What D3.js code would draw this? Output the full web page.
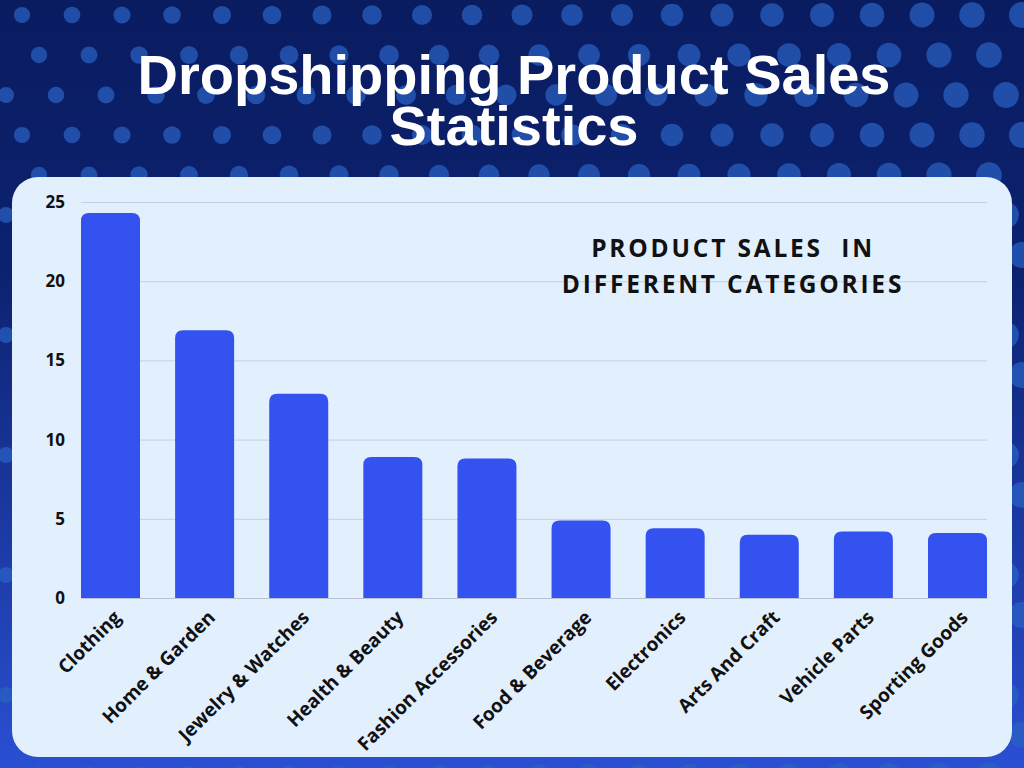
<!DOCTYPE html>
<html>
<head>
<meta charset="utf-8">
<script src="https://cdn.jsdelivr.net/npm/d3@7"></script>
<style>
  html, body { margin: 0; padding: 0; background: #0b1f66; }
  svg { display: block; }
</style>
</head>
<body>
<svg id="chart" width="1024" height="768"></svg>
<script>
(function() {
const categories = [
  'Clothing', 'Home & Garden', 'Jewelry & Watches', 'Health & Beauty',
  'Fashion Accessories', 'Food & Beverage', 'Electronics', 'Arts And Craft',
  'Vehicle Parts', 'Sporting Goods',
];
const sales = [24.3, 16.9, 12.9, 8.9, 8.8, 4.9, 4.4, 4.0, 4.2, 4.1];
const yTicks = [0, 5, 10, 15, 20, 25];
const titleLines = ['Dropshipping Product Sales', 'Statistics'];
const subtitleLines = ['PRODUCT SALES  IN', 'DIFFERENT CATEGORIES'];

const svg = d3.select('svg#chart');
const W = +svg.attr('width');
const H = +svg.attr('height');

// background gradient + dots
const defs = svg.append('defs');
const grad = defs.append('linearGradient')
    .attr('id', 'bg').attr('x1', 0).attr('y1', 0).attr('x2', 0).attr('y2', 1);
grad.append('stop').attr('offset', '0%').attr('stop-color', '#0a1c60');
grad.append('stop').attr('offset', '35%').attr('stop-color', '#0c2270');
grad.append('stop').attr('offset', '100%').attr('stop-color', '#2a4fd2');
svg.append('rect').attr('width', W).attr('height', H).attr('fill', 'url(#bg)');

const dots = [];
d3.range(0, 20).forEach(row => {
  const y = 15 + row * 40;
  const off = (row % 3) * 17;
  d3.range(-1, 22).forEach(col => {
    const x = off + 22 + col * 50;
    dots.push({ x, y, r: 8 + 5 * (x / W) });
  });
});
svg.append('g').selectAll('circle').data(dots).join('circle')
    .attr('cx', d => d.x).attr('cy', d => d.y).attr('r', d => d.r)
    .attr('fill', '#2a63c4').attr('opacity', 0.7);

// title
svg.append('g').selectAll('text').data(titleLines).join('text')
    .attr('x', W / 2 + 2)
    .attr('y', (d, i) => 94 + i * 51)
    .attr('text-anchor', 'middle')
    .attr('fill', '#ffffff')
    .style('font-family', '"Liberation Sans", Arial, sans-serif')
    .style('font-weight', 700)
    .style('font-size', '56px')
    .text(d => d);

// panel
svg.append('rect')
    .attr('x', 12).attr('y', 177).attr('width', 1000).attr('height', 580)
    .attr('rx', 26).attr('ry', 26)
    .attr('fill', '#e2effc');

const margin = { left: 81, right: 37 };
const x = d3.scaleBand()
    .domain(categories)
    .range([margin.left, W - margin.right])
    .paddingInner(0.373)
    .paddingOuter(0);
const y = d3.scaleLinear().domain([0, 25]).range([598, 202]);

// grid
svg.append('g')
    .attr('transform', `translate(${margin.left},0)`)
    .call(d3.axisLeft(y).tickValues(yTicks).tickSize(-(W - margin.right - margin.left)).tickFormat(''))
    .call(g => g.select('.domain').remove())
    .call(g => g.selectAll('.tick line').attr('stroke', '#c4d0e0').attr('stroke-width', 1));

// y labels
svg.append('g')
    .attr('transform', `translate(${margin.left},0)`)
    .call(d3.axisLeft(y).tickValues(yTicks).tickSize(0).tickPadding(16))
    .call(g => g.select('.domain').remove())
    .call(g => g.selectAll('.tick text')
        .attr('fill', '#111111')
        .style('font-family', '"Open Sans", sans-serif')
        .style('font-weight', 700)
        .style('font-size', '17px'));

// bars, rounded top only
const r = 8;
svg.append('g').selectAll('path').data(sales).join('path')
    .attr('fill', '#3352f0')
    .attr('d', (d, i) => {
      const x0 = x(categories[i]);
      const bw = x.bandwidth();
      const y0 = y(d);
      const yb = y(0);
      return `M${x0},${yb}V${y0 + r}Q${x0},${y0} ${x0 + r},${y0}` +
             `H${x0 + bw - r}Q${x0 + bw},${y0} ${x0 + bw},${y0 + r}V${yb}Z`;
    });

// x axis
svg.append('g')
    .attr('transform', `translate(0,${y(0)})`)
    .call(d3.axisBottom(x).tickSize(0).tickPadding(0))
    .call(g => g.select('.domain').attr('stroke', '#b8c2d2'))
    .call(g => g.selectAll('.tick text')
        .attr('text-anchor', 'end')
        .attr('transform', 'translate(7,16) rotate(-45)')
        .attr('dy', '0.35em')
        .attr('fill', '#111111')
        .style('font-family', '"Open Sans", sans-serif')
        .style('font-weight', 700)
        .style('font-size', '19px'));

// subtitle
svg.append('g').selectAll('text').data(subtitleLines).join('text')
    .attr('x', 733)
    .attr('y', (d, i) => 257 + i * 36)
    .attr('text-anchor', 'middle')
    .attr('fill', '#111111')
    .style('font-family', '"Open Sans", sans-serif')
    .style('font-weight', 700)
    .style('font-size', '24.5px')
    .style('letter-spacing', '2.8px')
    .style('white-space', 'pre')
    .text(d => d);
})();
</script>
</body>
</html>
